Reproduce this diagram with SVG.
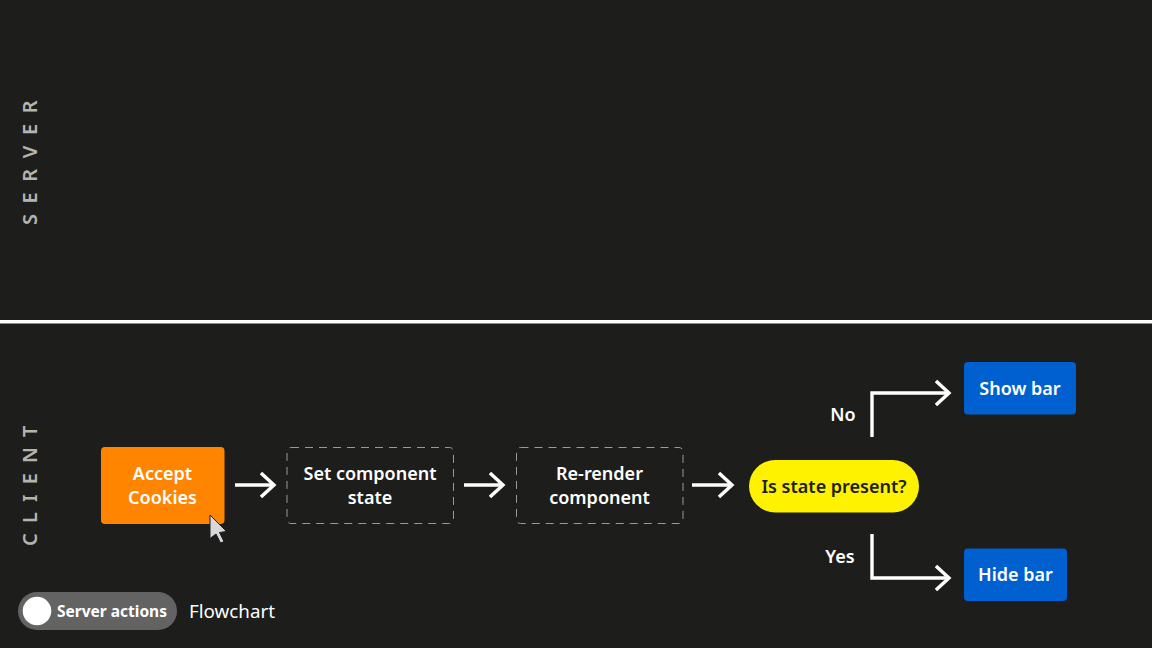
<svg xmlns="http://www.w3.org/2000/svg" width="1152" height="648" viewBox="0 0 1152 648">
<style>
text{font-family:"Noto Sans","Open Sans","Liberation Sans",sans-serif}
.l{font-size:18px;font-weight:600;fill:#fff;text-anchor:middle}
.d{fill:none;stroke:#9a9a96;stroke-width:1;stroke-dasharray:8 6}
.c{fill:none;stroke:#fff;stroke-width:3.400}
.side{font-size:20px;font-weight:600;fill:#b5b4ac}
</style>
<defs><marker id="a" markerUnits="userSpaceOnUse" markerWidth="20" markerHeight="30" refX="14" refY="13" orient="auto" viewBox="0 0 20 26"><path d="M1.500 1L14.500 13L1.500 25" fill="none" stroke="#fff" stroke-width="3.400"/></marker></defs>
<rect width="1152" height="648" fill="#1d1d1c"/>
<rect id="divider" y="320" width="1152" height="3.500" fill="#fff"/>
<text class="side" transform="translate(37,225) rotate(-90)" letter-spacing="10.600">SERVER</text>
<text class="side" transform="translate(37,546) rotate(-90)" letter-spacing="10.200">CLIENT</text>
<g id="connectors">
<path class="c" d="M235 485H273.500" marker-end="url(#a)"/>
<path class="c" d="M464 485H502.500" marker-end="url(#a)"/>
<path class="c" d="M692 485H731.500" marker-end="url(#a)"/>
<path class="c" d="M872 437V393H948.500" marker-end="url(#a)"/>
<path class="c" d="M872 534V578H948.500" marker-end="url(#a)"/>
</g>
<g id="accept"><rect x="101" y="447" width="123.500" height="77" rx="4" fill="#ff8500"/><text class="l" x="162.500" y="480">Accept</text><text class="l" x="162.500" y="504">Cookies</text></g>
<g id="cursor"><path d="M210 515L226.500 531.500L219.500 532.500L224 541.500L220.500 543L216 534L210 538.500Z" fill="#d8d8d8" stroke="#1e1e1e" stroke-width="1"/></g>
<g id="set"><rect class="d" x="287" y="447.500" width="166.500" height="76" rx="4"/><text class="l" x="370" y="480">Set component</text><text class="l" x="370" y="504">state</text></g>
<g id="render"><rect class="d" x="516.500" y="447.500" width="166.500" height="76" rx="4"/><text class="l" x="599.500" y="480">Re-render</text><text class="l" x="599.500" y="504">component</text></g>
<g id="decision"><rect x="749" y="460" width="170" height="52.500" rx="26.250" fill="#fff200"/><text class="l" x="834" y="492.500" style="fill:#1e1e1e">Is state present?</text></g>
<g id="show"><rect x="964" y="362" width="112" height="52.500" rx="4" fill="#0060d0"/><text class="l" x="1020" y="395">Show bar</text></g>
<g id="hide"><rect x="964" y="548.500" width="103" height="52.500" rx="4" fill="#0060d0"/><text class="l" x="1015.500" y="581">Hide bar</text></g>
<text class="l" x="843" y="420.500">No</text>
<text class="l" x="840" y="562.500">Yes</text>
<g id="toggle"><rect x="18" y="592" width="159" height="38" rx="19" fill="#636363"/><circle cx="37" cy="611" r="14.300" fill="#fff"/><text x="57" y="617" font-size="15.500" font-weight="700" fill="#fff">Server actions</text></g>
<text x="189" y="617.500" font-size="18.800" fill="#fff">Flowchart</text>
</svg>
